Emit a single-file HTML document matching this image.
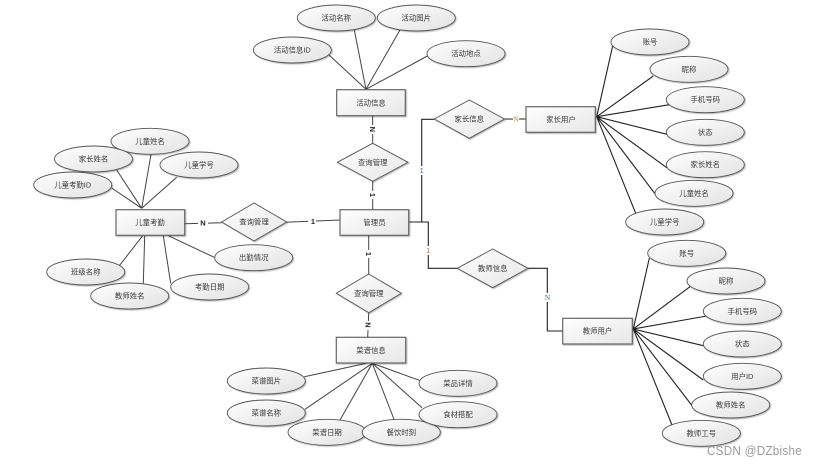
<!DOCTYPE html>
<html><head><meta charset="utf-8"><style>
html,body{margin:0;padding:0;background:#fff}
svg{display:block}
.l{stroke:#444;stroke-width:1;fill:none}
.d{stroke:#222;stroke-width:1.1;fill:none}
.s ellipse,.s rect,.s polygon{stroke:#555;stroke-width:.9;filter:drop-shadow(1px 1px .6px rgba(0,0,0,.28))}
.s rect{stroke:#666;stroke-width:1.2}
.s ellipse{fill:url(#g)}
.s rect,.s polygon{fill:url(#g2)}
text{font-family:"Liberation Sans","Noto Sans CJK SC",sans-serif;font-size:7.4px;fill:#3a3a3a;text-anchor:middle;dominant-baseline:central}
.t{filter:blur(.2px)}
.c{font-size:7.5px;font-weight:bold;fill:#222}
</style></head><body>
<svg width="817" height="465" viewBox="0 0 817 465" xmlns="http://www.w3.org/2000/svg">
<defs>
<linearGradient id="g" x1="0" y1="0" x2="1" y2="1"><stop offset="0" stop-color="#fff"/><stop offset="1" stop-color="#e2e2e2"/></linearGradient>
<linearGradient id="g2" x1="0" y1="0" x2="1" y2="1"><stop offset="0" stop-color="#fff"/><stop offset="1" stop-color="#e6e6e6"/></linearGradient>
</defs>
<g class="l">
<path d="M111.7 188L141.7 208.3M116.7 170L141.7 208.3M151 154.3L141.7 208.3M176.7 177.3L141.7 208.3"/>
<path d="M119.3 265.7L142.7 235.7M143.3 284L144.7 235.7M170.7 283.3L163.3 235.7M215 257.7L168.3 235.7"/>
<path d="M184.7 223.7L221.7 222.7M285.3 222.3L340 220"/>
<path d="M329.3 55.3L366 89.3M354.3 30L366 89.3M400 30L366 89.3M427.3 56L366 89.3"/>
<path d="M372.7 115.7V143.3M372.7 181.3V209.7M368.7 235.3V274M368.7 312.7L367.7 337.3"/>
<path d="M304.3 376.7L366.7 363.3M305 409.3L372.3 363.3M340 420L372.3 363.3M394.3 420L372.3 363.3M422 407.7L372.3 363.3M419.3 380.3L372.3 363.3"/>
</g>
<g class="d">
<path d="M408.7 222H421.7V119.3H434.3M421.7 222H428.3V268.3H457.3"/>
<path d="M504.7 119H526"/>
<path d="M528 268.3H547.3V331H562.7"/>
<path d="M596.7 116.7L612.7 45.7M596.7 116.7L653.3 76M596.7 116.7L669.3 104.7M596.7 116.7L667 134.3M596.7 116.7L666.7 167.7M596.7 116.7L655.7 194.7M596.7 116.7L635.7 213.3"/>
<path d="M633.3 329L649.3 258.3M633.3 329L690 286.7M633.3 329L706.7 316M633.3 329L703.3 345.7M633.3 329L703.3 380M633.3 329L692.3 406M633.3 329L672 425"/>
</g>
<g class="s">
<ellipse cx="150" cy="141.3" rx="39" ry="13"/><ellipse cx="93.5" cy="159" rx="39" ry="13"/><ellipse cx="199" cy="165" rx="39" ry="13"/><ellipse cx="72.7" cy="185" rx="39" ry="13"/>
<ellipse cx="253.7" cy="257.7" rx="39" ry="13"/><ellipse cx="209.7" cy="287" rx="39" ry="13"/><ellipse cx="85.7" cy="272" rx="39" ry="13"/><ellipse cx="129.7" cy="296" rx="39" ry="13"/>
<ellipse cx="336.3" cy="18" rx="39" ry="13"/><ellipse cx="416.3" cy="18" rx="39" ry="13"/><ellipse cx="292.3" cy="50" rx="39" ry="13"/><ellipse cx="466" cy="53.7" rx="39" ry="13"/>
<ellipse cx="650" cy="42" rx="39" ry="13"/><ellipse cx="689" cy="69.3" rx="39" ry="13"/><ellipse cx="705.3" cy="99.7" rx="39" ry="13"/><ellipse cx="705.3" cy="132.3" rx="39" ry="13"/><ellipse cx="705.3" cy="164.7" rx="39" ry="13"/><ellipse cx="694" cy="193.3" rx="39" ry="13"/><ellipse cx="664.7" cy="222" rx="39" ry="13"/>
<ellipse cx="266.3" cy="381" rx="39" ry="13"/><ellipse cx="266.3" cy="413" rx="39" ry="13"/><ellipse cx="327" cy="432.3" rx="39" ry="13"/><ellipse cx="401.3" cy="432.3" rx="39" ry="13"/><ellipse cx="458" cy="383.3" rx="39" ry="13"/><ellipse cx="458" cy="414.7" rx="39" ry="13"/>
<ellipse cx="686.7" cy="253.3" rx="39" ry="13"/><ellipse cx="726" cy="281" rx="39" ry="13"/><ellipse cx="742.3" cy="311.3" rx="39" ry="13"/><ellipse cx="742.3" cy="344" rx="39" ry="13"/><ellipse cx="742.3" cy="376.3" rx="39" ry="13"/><ellipse cx="730.7" cy="405" rx="39" ry="13"/><ellipse cx="701.3" cy="433.3" rx="39" ry="13"/>
<rect x="116" y="209.7" width="68.7" height="25.6"/><rect x="336.7" y="89.7" width="68.6" height="26"/><rect x="340" y="209.7" width="68.7" height="25.6"/><rect x="526" y="106.7" width="69.3" height="25.6"/><rect x="336.3" y="337.3" width="69.4" height="25.7"/><rect x="562.7" y="318.3" width="69.6" height="25.7"/>
<polygon points="221.7,222 254,203 286.7,222 254,241"/><polygon points="337.3,162.3 372.7,143.3 408,162.3 372.7,181.3"/><polygon points="434.3,119 469.3,100 504.5,119 469.3,138.3"/><polygon points="336.3,293.3 368.8,274 401.3,293.3 368.8,312.7"/><polygon points="457.3,268.3 492.7,249 528,268.3 492.7,287.7"/>
</g>
<g class="t">
<text x="150" y="141.3">儿童姓名</text><text x="93.5" y="159">家长姓名</text><text x="199" y="165">儿童学号</text><text x="72.7" y="185">儿童考勤ID</text>
<text x="150" y="222.5">儿童考勤</text><text x="254" y="222">查询管理</text>
<text x="253.7" y="257.7">出勤情况</text><text x="209.7" y="287">考勤日期</text><text x="85.7" y="272">班级名称</text><text x="129.7" y="296">教师姓名</text>
<text x="336.3" y="18">活动名称</text><text x="416.3" y="18">活动图片</text><text x="292.3" y="50">活动信息ID</text><text x="466" y="53.7">活动地点</text>
<text x="371" y="103">活动信息</text><text x="372.7" y="162.3">查询管理</text><text x="374.5" y="222.5">管理员</text>
<text x="469.3" y="119">家长信息</text><text x="561" y="119.5">家长用户</text>
<text x="650" y="42">账号</text><text x="689" y="69.3">昵称</text><text x="705.3" y="99.7">手机号码</text><text x="705.3" y="132.3">状态</text><text x="705.3" y="164.7">家长姓名</text><text x="694" y="193.3">儿童姓名</text><text x="664.7" y="222">儿童学号</text>
<text x="368.8" y="293.3">查询管理</text><text x="371" y="350.3">菜谱信息</text>
<text x="266.3" y="381">菜谱图片</text><text x="266.3" y="413">菜谱名称</text><text x="327" y="432.3">菜谱日期</text><text x="401.3" y="432.3">餐饮时刻</text><text x="458" y="383.3">菜品详情</text><text x="458" y="414.7">食材搭配</text>
<text x="492.7" y="268.3">教师信息</text><text x="597.5" y="331">教师用户</text>
<text x="686.7" y="253.3">账号</text><text x="726" y="281">昵称</text><text x="742.3" y="311.3">手机号码</text><text x="742.3" y="344">状态</text><text x="742.3" y="376.3">用户ID</text><text x="730.7" y="405">教师姓名</text><text x="701.3" y="433.3">教师工号</text>
</g>
<rect x="198" y="218" width="10" height="10" fill="#fff"/><text class="c" x="203" y="223">N</text>
<rect x="308" y="216" width="8" height="10" fill="#fff"/><text class="c" x="313" y="221.5">1</text>
<rect x="368" y="125" width="10" height="9" fill="#fff"/><text class="c" x="372.7" y="129.3" transform="rotate(90 372.7 129.3)">N</text>
<rect x="368" y="191" width="10" height="8" fill="#fff"/><text class="c" x="372.7" y="195" transform="rotate(90 372.7 195)">1</text>
<rect x="364" y="250" width="10" height="8" fill="#fff"/><text class="c" x="368.7" y="254" transform="rotate(90 368.7 254)">1</text>
<rect x="363" y="321" width="10" height="9" fill="#fff"/><text class="c" x="368" y="325" transform="rotate(90 368 325)">N</text>
<rect x="419" y="166" width="5" height="9" fill="#fff"/><text x="421.7" y="170.5" style="fill:#3b6fb0">1</text>
<rect x="426" y="246" width="5" height="9" fill="#fff"/><text x="428.3" y="250.7" style="fill:#b8862b">1</text>
<rect x="513" y="115" width="6" height="8" fill="#fff"/><text x="516" y="119" style="font-family:'Liberation Serif',serif;fill:#b8862b">N</text>
<rect x="544" y="293" width="6" height="9" fill="#fff"/><text x="547.5" y="297.3" style="font-family:'Liberation Serif',serif;fill:#4a6a80">N</text>
<text x="754.5" y="450.5" style="font-size:13px;fill:#9a9a9a;letter-spacing:.3px" textLength="95" lengthAdjust="spacingAndGlyphs">CSDN @DZbishe</text>
</svg>
</body></html>
